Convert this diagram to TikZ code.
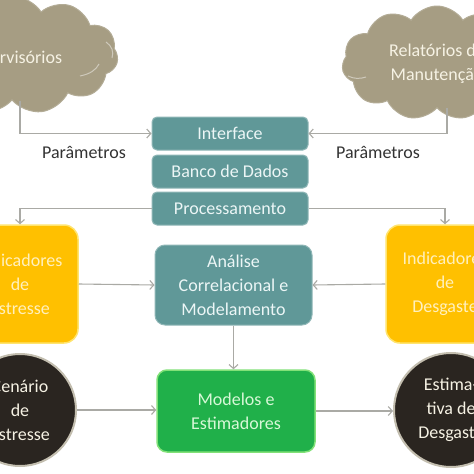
\documentclass[tikz,border=0pt]{standalone}
\usepackage{fontspec}
\setmainfont{Carlito}
\usetikzlibrary{arrows.meta,shapes.symbols,calc}
\definecolor{teal1}{RGB}{96,152,152}
\definecolor{tealtxt}{RGB}{236,246,246}
\definecolor{yel}{RGB}{255,192,0}
\definecolor{yelbd}{RGB}{255,228,110}
\definecolor{yeltxt}{RGB}{255,240,190}
\definecolor{grn}{RGB}{32,176,74}
\definecolor{grnbd}{RGB}{130,225,120}
\definecolor{grntxt}{RGB}{215,248,215}
\definecolor{blk}{RGB}{42,37,32}
\definecolor{blkbd}{RGB}{195,190,175}
\definecolor{cloudc}{RGB}{166,157,131}
\definecolor{cloudtxt}{RGB}{246,242,228}
\definecolor{conn}{RGB}{170,170,165}
\tikzset{
  txt/.style={font=\fontsize{18}{24}\selectfont, align=center, inner sep=0pt},
  tealbox/.style={txt, rectangle, rounded corners=5pt, fill=teal1, draw=teal1!70!white, line width=1pt, text=tealtxt},
  yelbox/.style={txt, rectangle, rounded corners=14pt, fill=yel, draw=yelbd, line width=1.5pt, text=yeltxt, minimum width=116pt, minimum height=118pt},
  grnbox/.style={txt, rectangle, rounded corners=10pt, fill=grn, draw=grnbd, line width=1.5pt, text=grntxt},
  blkcirc/.style={txt, circle, fill=blk, draw=blkbd, line width=2pt, text=cloudtxt, minimum size=114pt},
  cloudnode/.style={txt, cloud, cloud puffs=11, cloud puff arc=115, cloud ignores aspect, fill=cloudc, draw=cloudc!85!white, line width=1pt, text=cloudtxt},
  puffline/.style={draw=cloudc!55!white, line width=1pt},
  conn/.style={draw=conn, line width=1.1pt, -{Straight Barb[length=4pt,width=9pt]}},
  lbl/.style={font=\fontsize{18}{24}\selectfont, inner sep=0pt, text=black!80}
}
\begin{document}
\begin{tikzpicture}[x=1pt,y=-1pt]
\useasboundingbox (0,0) rectangle (474,474);
\fill[white] (0,0) rectangle (474,474);
\clip (0,0) rectangle (474,474);
% clouds
\node[cloudnode, minimum width=212pt, minimum height=118pt] (cloudL) at (12,55) {};
\node[txt, text=cloudtxt] (cloudLt) at (13,59) {Supervisórios};
\node[cloudnode, minimum width=190pt, minimum height=114pt] (cloudR) at (437,63) {};
\node[txt, text=cloudtxt] (cloudRt) at (437,64) {Relatórios de\\Manutenção};
\draw[puffline] (80,76) .. controls (90,74) and (96,70) .. (99,64);
\draw[puffline] (106,42) .. controls (112,46) and (114,52) .. (112,58);
\draw[puffline] (348,76) .. controls (354,79) and (360,79) .. (366,77);
% teal stack
\node[tealbox, minimum width=156pt, minimum height=33pt] (iface) at (230,133.5) {Interface};
\node[tealbox, minimum width=156pt, minimum height=33pt] (banco) at (230,171.5) {Banco de Dados};
\node[tealbox, minimum width=156pt, minimum height=33pt] (proc) at (230,208.5) {Processamento};
% labels
\node[lbl] (parL) at (84,152) {Parâmetros};
\node[lbl] (parR) at (378,152) {Parâmetros};
% yellow
\node[yelbox] (indL) at (20,284) {Indicadores\\de\\Estresse};
\node[yelbox, minimum width=118pt] (indR) at (445,284) {Indicadores\\de\\Desgaste};
% analise
\node[tealbox, rounded corners=10pt, minimum width=157pt, minimum height=80pt] (anal) at (233.5,285) {Análise\\Correlacional e\\Modelamento};
% modelos
\node[grnbox, minimum width=158pt, minimum height=82pt] (model) at (236,411) {Modelos e\\Estimadores};
% circles
\node[blkcirc, minimum size=112pt] (cenL) at (20,410) {Cenário\\de\\Estresse};
\node[blkcirc] (estR) at (451,410) {Estima-\\tiva de\\Desgaste};
% connectors
\draw[conn] ([xshift=8pt]cloudL.south) |- (iface.west);
\draw[conn] ([xshift=10pt]cloudR.south) |- (iface.east);
\draw[conn] (proc.west) -| (indL.north);
\draw[conn] (proc.east) -| (indR.north);
\draw[conn] (indL.east) -- (anal.west);
\draw[conn] (indR.west) -- (anal.east);
\draw[conn] (anal.south) -- (anal.south |- model.north);
\draw[conn] (cenL.east) -- (cenL.east -| model.west);
\draw[conn] (model.east) -- (model.east -| estR.west);
\end{tikzpicture}
\end{document}
